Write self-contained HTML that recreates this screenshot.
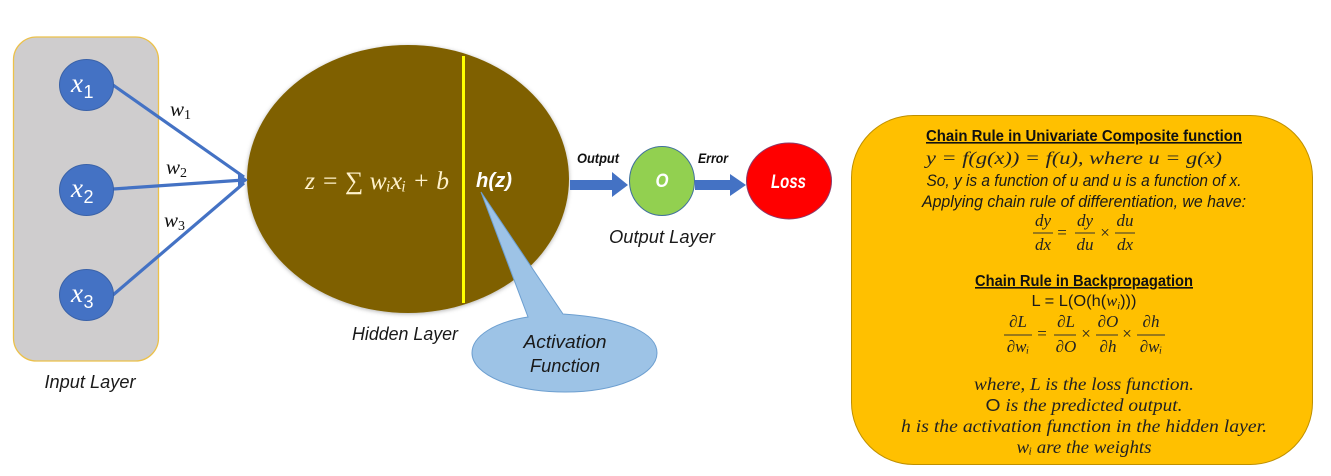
<!DOCTYPE html>
<html><head><meta charset="utf-8"><style>
html,body{margin:0;padding:0;background:#fff;width:1331px;height:476px;overflow:hidden}
svg{display:block}
.c{font-family:"Liberation Sans",sans-serif}
.m{font-family:"Liberation Serif",serif;font-style:italic}
text{text-anchor:middle}
.s{font-size:17.5px;fill:#222}
.f{font-size:17px;fill:#222}
.h{font-family:"Liberation Sans",sans-serif;font-weight:bold;font-size:16px;fill:#111;text-decoration:underline}
.i{font-family:"Liberation Sans",sans-serif;font-style:italic;font-size:17px;fill:#1a1a1a}
.l{font-family:"Liberation Sans",sans-serif;font-style:italic;font-size:18px;fill:#1a1a1a}
</style></head><body>
<svg width="1331" height="476" viewBox="0 0 1331 476" xmlns="http://www.w3.org/2000/svg">
<defs><filter id="sh" x="-5%" y="-5%" width="110%" height="110%"><feDropShadow dx="0" dy="1" stdDeviation="2" flood-color="#000" flood-opacity=".3"/></filter></defs>
<rect x="13.5" y="37" width="145" height="324" rx="23" fill="#cfcdce" stroke="#ecc14a" stroke-width="1.3"/>
<ellipse cx="408" cy="179" rx="161" ry="134" fill="#7f6000" filter="url(#sh)"/>
<line x1="463.5" y1="56" x2="463.5" y2="303" stroke="#ffff00" stroke-width="3"/>
<g stroke="#4472c4" stroke-width="3.2" fill="none">
<line x1="113" y1="85" x2="244" y2="177"/>
<line x1="113" y1="189" x2="244" y2="180"/>
<line x1="113" y1="295" x2="244" y2="183"/>
</g>
<polygon points="248,180 238,173 238,187" fill="#4472c4"/>
<g fill="#4472c4" stroke="#3a62a8" stroke-width="1">
<ellipse cx="86.5" cy="85" rx="27" ry="25.5"/>
<ellipse cx="86.5" cy="190" rx="27" ry="25.5"/>
<ellipse cx="86.5" cy="295" rx="27" ry="25.5"/>
</g>
<g class="m" fill="#fff" font-size="27">
<text x="77" y="92">x</text><text x="77" y="197">x</text><text x="77" y="302">x</text>
</g>
<g font-family="Liberation Sans,sans-serif" fill="#fff" font-size="18">
<text x="88.5" y="98">1</text><text x="88.5" y="203">2</text><text x="88.5" y="308">3</text>
</g>
<g fill="#111" font-size="21" class="m" style="text-anchor:start">
<text x="170" y="116" style="text-anchor:start">w<tspan font-size="14" dy="3" font-style="normal">1</tspan></text>
<text x="166" y="174" style="text-anchor:start">w<tspan font-size="14" dy="3" font-style="normal">2</tspan></text>
<text x="164" y="227" style="text-anchor:start">w<tspan font-size="14" dy="3" font-style="normal">3</tspan></text>
</g>
<text class="l" x="90" y="388" textLength="91" lengthAdjust="spacingAndGlyphs">Input Layer</text>
<text class="m" x="377" y="189" fill="#fff2cc" font-size="25" textLength="144" lengthAdjust="spacingAndGlyphs">z = ∑ wᵢxᵢ + b</text>
<text class="c" x="494" y="187" fill="#fff" font-size="20" font-weight="bold" font-style="italic" textLength="36" lengthAdjust="spacingAndGlyphs">h(z)</text>
<text class="l" x="405" y="340" textLength="106" lengthAdjust="spacingAndGlyphs">Hidden Layer</text>
<polygon points="570,180 612,180 612,172 628,185 612,197 612,190 570,190" fill="#4472c4"/>
<polygon points="695,180 730,180 730,174 746,185 730,196 730,190 695,190" fill="#4472c4"/>
<ellipse cx="662" cy="181" rx="32.5" ry="34.5" fill="#92d050" stroke="#41719c" stroke-width="1"/>
<ellipse cx="789" cy="181" rx="42.5" ry="38" fill="#ff0000" stroke="#8a3b6b" stroke-width="1"/>
<text class="c" x="662" y="187" fill="#fff" font-size="19" font-weight="bold" font-style="italic" textLength="13" lengthAdjust="spacingAndGlyphs">O</text>
<text class="c" x="788.5" y="188" fill="#fff" font-size="19" font-weight="bold" font-style="italic" textLength="35" lengthAdjust="spacingAndGlyphs">Loss</text>
<text class="c" x="598" y="163" fill="#111" font-size="13.5" font-weight="bold" font-style="italic" textLength="42" lengthAdjust="spacingAndGlyphs">Output</text>
<text class="c" x="713" y="163" fill="#111" font-size="13.5" font-weight="bold" font-style="italic" textLength="30" lengthAdjust="spacingAndGlyphs">Error</text>
<text class="l" x="662" y="243" textLength="106" lengthAdjust="spacingAndGlyphs">Output Layer</text>
<path d="M481,192 L563,314 C622,318 657,332 657,353 C657,375 616,392 565,392 C514,392 472,375 472,353 C472,336 495,322 528,317 Z" fill="#9dc3e6" stroke="#6d9fd0" stroke-width="1"/>
<text class="l" x="565" y="348" textLength="83" lengthAdjust="spacingAndGlyphs">Activation</text>
<text class="l" x="565" y="372" textLength="70" lengthAdjust="spacingAndGlyphs">Function</text>
<rect x="851.5" y="115.5" width="461" height="349" rx="62" fill="#ffc000" stroke="#bf9000" stroke-width="1"/>
<text class="h" x="1084" y="141" textLength="316" lengthAdjust="spacingAndGlyphs">Chain Rule in Univariate Composite function</text>
<text class="m s" x="1074" y="164" textLength="296" lengthAdjust="spacingAndGlyphs">y = f(g(x)) = f(u), where u = g(x)</text>
<text class="i" x="1084" y="186" textLength="315" lengthAdjust="spacingAndGlyphs">So, y is a function of u and u is a function of x.</text>
<text class="i" x="1084" y="207" textLength="324" lengthAdjust="spacingAndGlyphs">Applying chain rule of differentiation, we have:</text>
<g class="m f">
<text x="1043" y="226">dy</text><text x="1043" y="250">dx</text>
<text x="1085" y="226">dy</text><text x="1085" y="250">du</text>
<text x="1125" y="226">du</text><text x="1125" y="250">dx</text>
<text x="1062" y="238" font-style="normal">=</text><text x="1105" y="238" font-style="normal">×</text>
</g>
<g stroke="#333" stroke-width="1"><line x1="1033" y1="233" x2="1053" y2="233"/><line x1="1075" y1="233" x2="1095" y2="233"/><line x1="1115" y1="233" x2="1135" y2="233"/></g>
<text class="h" x="1084" y="286" textLength="218" lengthAdjust="spacingAndGlyphs">Chain Rule in Backpropagation</text>
<text class="c" x="1084" y="306" font-size="16" fill="#1a1a1a" textLength="105" lengthAdjust="spacingAndGlyphs">L = L(O(h(<tspan class="m">w</tspan><tspan class="m" font-size="10" dy="3">i</tspan><tspan dy="-3">)))</tspan></text>
<g class="m f">
<text x="1018" y="327">∂L</text><text x="1018" y="352">∂wᵢ</text>
<text x="1066" y="327">∂L</text><text x="1066" y="352">∂O</text>
<text x="1108" y="327">∂O</text><text x="1108" y="352">∂h</text>
<text x="1151" y="327">∂h</text><text x="1151" y="352">∂wᵢ</text>
<text x="1042" y="339" font-style="normal">=</text><text x="1086" y="339" font-style="normal">×</text><text x="1127" y="339" font-style="normal">×</text>
</g>
<g stroke="#333" stroke-width="1"><line x1="1004" y1="335" x2="1032" y2="335"/><line x1="1054" y1="335" x2="1076" y2="335"/><line x1="1096" y1="335" x2="1118" y2="335"/><line x1="1137" y1="335" x2="1165" y2="335"/></g>
<text class="m s" x="1084" y="390" textLength="220" lengthAdjust="spacingAndGlyphs">where, L is the loss function.</text>
<text class="m s" x="1084" y="411" textLength="197" lengthAdjust="spacingAndGlyphs"><tspan font-style="normal" class="c">O</tspan> is the predicted output.</text>
<text class="m s" x="1084" y="432" textLength="366" lengthAdjust="spacingAndGlyphs">h is the activation function in the hidden layer.</text>
<text class="m s" x="1084" y="453" textLength="135" lengthAdjust="spacingAndGlyphs">wᵢ are the weights</text>
</svg>
</body></html>
